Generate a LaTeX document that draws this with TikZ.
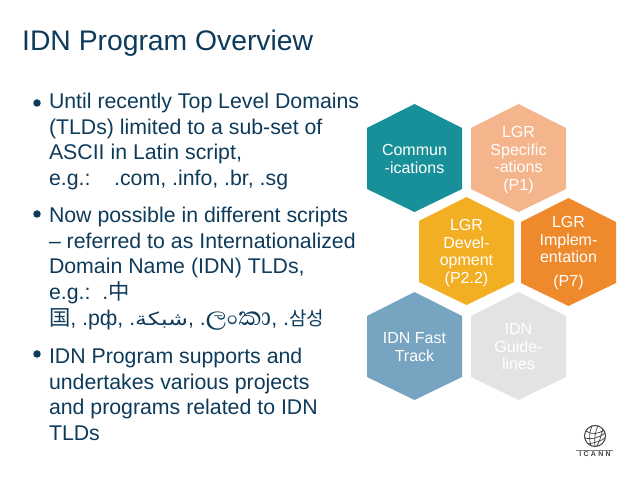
\documentclass[tikz,border=0pt]{standalone}
\usepackage{fontspec}
\usepackage{graphicx}
\setmainfont{Liberation Sans}
\TeXXeTstate=1
\newfontfamily\cjksc{Noto Sans CJK SC}
\newfontfamily\cjkkr{Noto Sans CJK KR}
\newfontfamily\arabicfont[Script=Arabic]{DejaVu Sans}
\newfontfamily\sinhalafont[Script=Sinhala]{Abhaya Libre}
\definecolor{navy}{HTML}{0F3B5B}
\definecolor{tealhex}{HTML}{17909A}
\definecolor{peachhex}{HTML}{F4B48C}
\definecolor{yellowhex}{HTML}{F3AF24}
\definecolor{orangehex}{HTML}{EF8A2C}
\definecolor{bluehex}{HTML}{77A4C0}
\definecolor{greyhex}{HTML}{E3E3E3}
\begin{document}
\begin{tikzpicture}[x=1pt,y=-1pt,
  line/.style={anchor=base west,inner sep=0pt,outer sep=0pt,text=navy,font=\fontsize{21.3}{24}\selectfont},
  dot/.style={circle,fill=navy,inner sep=0pt,minimum size=7.5pt},
  hexlabel/.style={align=center,text=white,inner sep=0pt,font=\fontsize{16}{17.5}\selectfont}]
\useasboundingbox (0,0) rectangle (638,478);
\fill[white] (0,0) rectangle (638,478);
\node[anchor=base west,inner sep=0pt,text=navy,font=\fontsize{28.3}{32}\selectfont] (title) at (22,50.5) {IDN Program Overview};
% bullets
\node[dot] (b1) at (37,103) {};
\node[dot] (b2) at (37,214) {};
\node[dot] (b3) at (37,354) {};
\node[line] (l1) at (49,109) {Until recently Top Level Domains};
\node[line] (l2) at (49,135) {(TLDs) limited to a sub-set of};
\node[line] (l3) at (49,160) {ASCII in Latin script,};
\node[line] (l4) at (49,186) {e.g.:\ \ \ \ .com, .info, .br, .sg};
\node[line] (l5) at (49,223) {Now possible in different scripts};
\node[line] (l6) at (49,249) {– referred to as Internationalized};
\node[line] (l7) at (49,274) {Domain Name (IDN) TLDs,};
\node[line] (l8) at (49,300) {e.g.:\ \ .{\cjksc 中}};
\node[line] (l9) at (49,326) {{\cjksc 国}, .рф, .\scalebox{1.32}[1]{\arabicfont\fontsize{18}{20}\selectfont\beginR شبكة\endR}, .{\sinhalafont\fontsize{33}{33}\selectfont ලංකා}, .{\cjkkr\fontsize{19}{20}\selectfont 삼성}};
\node[line] (l10) at (49,364) {IDN Program supports and};
\node[line] (l11) at (49,390) {undertakes various projects};
\node[line] (l12) at (49,415) {and programs related to IDN};
\node[line] (l13) at (49,441) {TLDs};
% hexagons
\def\hexat#1#2#3{\fill[#3] (#1,#2-54) -- (#1+47.5,#2-30) -- (#1+47.5,#2+31) -- (#1,#2+54) -- (#1-47.5,#2+31) -- (#1-47.5,#2-30) -- cycle;}
\hexat{414.5}{158}{tealhex}
\hexat{518.5}{158}{peachhex}
\hexat{466.5}{251}{yellowhex}
\hexat{568.5}{252}{orangehex}
\hexat{414.5}{346}{bluehex}
\hexat{518.5}{346}{greyhex}
\node[hexlabel] (comm) at (414.5,159) {Commun\\-ications};
\node[hexlabel] (spec) at (518.5,160) {LGR\\Specific\\-ations\\(P1)};
\node[hexlabel] (dev) at (466.5,253) {LGR\\Devel-\\opment\\(P2.2)};
\node[hexlabel] (impl) at (568.5,253) {LGR\\Implem-\\entation\\[6pt](P7)};
\node[hexlabel] (fast) at (414.5,347) {IDN Fast\\Track};
\node[hexlabel] (guide) at (518.5,347) {IDN\\Guide-\\lines};
% logo
\begin{scope}[draw=black!75,line width=.7pt]
\draw[line width=1pt] (595,436) circle (10.5);
\draw (586,431) .. controls (591,435) and (599,434) .. (604,430);
\draw (584.5,438) .. controls (591,440) and (599,438) .. (605,433);
\draw (588,444) .. controls (594,443) and (601,441) .. (605,438);
\draw (592,426) .. controls (589,432) and (589,440) .. (591,446);
\draw (598,425.5) .. controls (595,432) and (594,440) .. (595,446.5);
\draw (603,429) .. controls (601,435) and (600,441) .. (597,446);
\draw[line width=.4pt,black!50] (576,450) -- (613,450);
\end{scope}
\node[inner sep=0pt,text=black!75,font=\bfseries\fontsize{7}{7}\selectfont] (icann) at (595,454.5) {I\,\,C\,\,A\,\,N\,\,N};
\end{tikzpicture}
\end{document}
